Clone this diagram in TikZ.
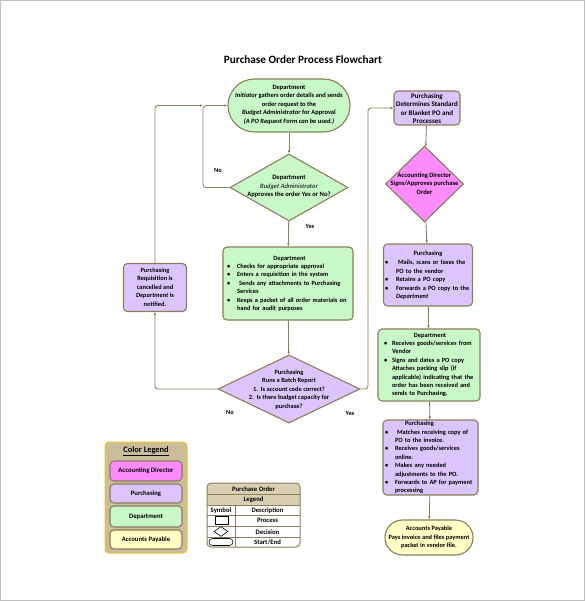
\documentclass[tikz,border=0pt]{standalone}
\usepackage{fontspec}
\setmainfont{Carlito}
\usetikzlibrary{shapes.geometric,shapes.misc,arrows.meta}
\definecolor{lnc}{HTML}{8B7D5C}
\definecolor{grn}{HTML}{C8F7C8}
\definecolor{prp}{HTML}{DBC5FC}
\definecolor{mag}{HTML}{FC8CFC}
\definecolor{ylw}{HTML}{FFFFC6}
\definecolor{tan}{HTML}{C9BD9B}
\definecolor{tanl}{HTML}{D9D0B4}
\definecolor{gold}{HTML}{F2C12E}
\newcommand\bitem[2][9pt]{\par\noindent\hangindent=#1\hangafter=1\makebox[#1][l]{\textbullet}#2}
\newcommand\sm{\fontsize{6.4}{8.4}\selectfont\bfseries}
\newcommand\smb{\fontsize{7}{8.6}\selectfont\bfseries}
\newcommand\lgf{\fontsize{6.7}{8}\selectfont\bfseries}
\tikzset{
  boxst/.style={draw=lnc, line width=1.1pt, rounded corners=4pt, inner sep=0pt, font=\sm},
  ovalst/.style={draw=lnc, line width=1.1pt, rounded rectangle, inner sep=0pt, font=\sm},
  diast/.style={draw=lnc, line width=1.1pt, diamond, inner sep=0pt},
  txt/.style={font=\sm, align=center, inner sep=0pt},
  txtb/.style={font=\smb, align=center, inner sep=0pt},
  btxt/.style={font=\sm, inner sep=0pt},
  arr/.style={draw=lnc, line width=0.85pt, rounded corners=3pt, -{Latex[length=3pt,width=2.6pt]}},
  lbl/.style={font=\sm, inner sep=0pt},
  cell/.style={font=\lgf, inner sep=0pt},
  lgbox/.style={draw=lnc, line width=1.1pt, rounded corners=4pt, inner sep=0pt, minimum width=72pt, font=\lgf},
}
\begin{document}
\begin{tikzpicture}[x=1pt,y=-1pt]
\useasboundingbox (0,0) rectangle (585,601);
\draw[black!25, line width=0.6pt] (0.5,0.5) rectangle (584.5,600.5);

\node[font=\fontsize{11.2}{13}\selectfont\bfseries] (title) at (303,60) {Purchase Order Process Flowchart};

% left column
\node[ovalst, fill=grn, minimum width=122pt, minimum height=53pt] (start) at (289,105.5) {};
\node[txt, font=\fontsize{6.5}{8.5}\selectfont\bfseries] (starttxt) at (289,104.5) {Department\\ \textit{Initiator} gathers order details and sends\\ order request to the\\ \textit{Budget Administrator} for Approval\\ \textit{(A PO Request Form can be used.)}};

\node[diast, fill=grn, minimum width=118pt, minimum height=67pt] (d1) at (289,187.5) {};
\node[txt, font=\fontsize{6.6}{8.5}\selectfont\bfseries] (d1txt) at (289,186.5) {Department\\ \textit{\mdseries Budget Administrator}\\ Approves the order Yes or No?};

\node[boxst, fill=grn, minimum width=130pt, minimum height=73pt] (admin) at (288,283.5) {};
\node[btxt, text width=125pt] (admintxt) at (289.5,283.5) {\centerline{Department}\centerline{\textit{Admin. Assistant}}%
\bitem[10pt]{Checks for appropriate approval}%
\bitem[10pt]{Enters a requisition in the system}%
\bitem[10pt]{\ Sends any attachments to Purchasing\newline Services}%
\bitem[10pt]{Keeps a packet of all order materials on\newline hand for audit purposes}\par};

\node[diast, fill=prp, minimum width=142pt, minimum height=68pt] (d2) at (289,389) {};
\node[txt] (d2txt) at (289,389.5) {Purchasing\\ Runs a Batch Report\\ 1.\ \ Is\ account code correct?\\ 2.\ \ Is there budget capacity for\\ purchase?};

\node[boxst, fill=prp, minimum width=63pt, minimum height=48pt] (cancel) at (155,287.5) {};
\node[txt] (canceltxt) at (155,287) {Purchasing\\ Requisition is\\ cancelled and\\ \textit{Department} is\\ notified.};

% right column
\node[boxst, fill=prp, minimum width=66pt, minimum height=34pt] (p1) at (427,108) {};
\node[txtb] (p1txt) at (427,108.5) {Purchasing\\ Determines Standard\\ or Blanket PO and\\ Processes};

\node[diast, fill=mag, minimum width=78pt, minimum height=76pt] (ad) at (424.5,184) {};
\node[txtb, font=\fontsize{6.5}{8.5}\selectfont\bfseries] (adtxt) at (424.5,183.5) {Accounting Director\\ Signs/Approves purchase\\ Order};

\node[boxst, fill=prp, minimum width=89pt, minimum height=62pt] (p2) at (428,275) {};
\node[btxt, text width=86pt] (p2txt) at (428,275.5) {\centerline{Purchasing}\vskip0.6pt%
\bitem[11pt]{\ Mails, scans or faxes the\newline PO to the vendor}%
\bitem[11pt]{Retains a PO copy}%
\bitem[11pt]{Forwards a PO copy to the\newline \textit{Department}}\par};

\node[boxst, fill=grn, minimum width=102pt, minimum height=72pt] (dept2) at (429,365) {};
\node[btxt, text width=92pt] (dept2txt) at (430,365) {\centerline{Department}%
\bitem[8pt]{Receives goods/services from\newline Vendor}%
\bitem[8pt]{Signs and dates a PO copy\newline Attaches packing slip (if\newline applicable) indicating that the\newline order has been received and\newline sends to Purchasing.}\par};

\node[boxst, fill=prp, minimum width=95pt, minimum height=75pt] (p3) at (430.5,457.5) {};
\node[btxt, text width=92pt] (p3txt) at (431,457.5) {\hspace*{20pt}Purchasing\par
\bitem[10pt]{\ Matches receiving copy of\newline PO to the invoice.}%
\bitem[10pt]{Receives goods/services\newline online.}%
\bitem[10pt]{Makes any needed\newline adjustments to the PO.}%
\bitem[10pt]{Forwards to AP for payment\newline processing}\par};

\node[ovalst, fill=ylw, minimum width=88pt, minimum height=35pt] (ap) at (429,537.5) {};
\node[txt] (aptxt) at (429,537.5) {Accounts Payable\\ Pays invoice and files payment\\ packet in vendor file.};

% connectors
\coordinate (j1) at (203,105.5);
\coordinate (j2) at (368,108);
\draw[arr] (start) -- (d1);
\draw[arr] (d1) -- (admin);
\draw[arr] (admin) -- (d2);
\draw[arr] (d1.west) -| (j1) -- (start.west);
\draw[arr] (cancel.north) |- (j1);
\draw[arr] (d2.west) -| (cancel.south);
\draw[arr] (d2.east) -| (j2) -- (p1.west);
\draw[arr] (p1) -- (ad);
\draw[arr] (ad) -- (p2);
\draw[arr] (p2) -- (dept2);
\draw[arr] (dept2) -- (p3);
\draw[arr] (p3) -- (ap);

\node[lbl] (no1) at (218,170) {No};
\node[lbl] (yes1) at (310,226) {Yes};
\node[lbl] (no2) at (230,412) {No};
\node[lbl] (yes2) at (350,413) {Yes};

% color legend
\node[draw=gold, fill=tan, line width=1pt, rounded corners=4pt, minimum width=82pt, minimum height=111pt, inner sep=0pt] (clg) at (146,497.5) {};
\node[font=\fontsize{8.4}{9}\selectfont\bfseries, inner sep=0pt] (clgt) at (146,451.5) {\underline{Color Legend}};
\node[lgbox, fill=mag, minimum height=20pt] (lad) at (146,471) {Accounting Director};
\node[lgbox, fill=prp, minimum height=19pt] (lpu) at (146,493.5) {Purchasing};
\node[lgbox, fill=grn, minimum height=21pt] (lde) at (146,516.5) {Department};
\node[lgbox, fill=ylw, minimum height=19pt] (lap) at (146,539.5) {Accounts Payable};

% purchase order legend table
\fill[tanl, rounded corners=4pt] (207,483) rectangle (300,505);
\fill[tanl] (207,490) rectangle (300,505);
\fill[white] (207,505) rectangle (300,547);
\draw[lnc, line width=0.7pt] (207,494) -- (300,494);
\draw[lnc, line width=0.7pt] (207,505) -- (300,505);
\draw[lnc, line width=0.5pt] (207,515) -- (300,515) (207,526) -- (300,526) (207,537) -- (300,537);
\draw[lnc, line width=0.5pt] (235,505) -- (235,547);
\draw[lnc, line width=1pt, rounded corners=4pt] (207,547) -- (207,483) -- (300,483) -- (300,547) -- cycle;
\node[cell] (tpo) at (253.5,488.8) {Purchase Order};
\node[cell] (tlg) at (253.5,499.7) {Legend};
\node[cell] (tsy) at (221,510.2) {Symbol};
\node[cell] (tde) at (267.5,510.2) {Description};
\node[cell] (tpr) at (267.5,520.7) {Process};
\node[cell] (tdc) at (267.5,531.7) {Decision};
\node[cell] (tse) at (267.5,542.2) {Start/End};
\node[draw=black, line width=0.6pt, minimum width=13pt, minimum height=8pt, inner sep=0pt] (sproc) at (221.5,520) {};
\node[draw=black, line width=0.6pt, diamond, minimum width=14pt, minimum height=10pt, inner sep=0pt] (sdec) at (221,531.5) {};
\node[draw=black, line width=0.6pt, rounded rectangle, minimum width=24pt, minimum height=7pt, inner sep=0pt] (sse) at (221,542) {};
\end{tikzpicture}
\end{document}
